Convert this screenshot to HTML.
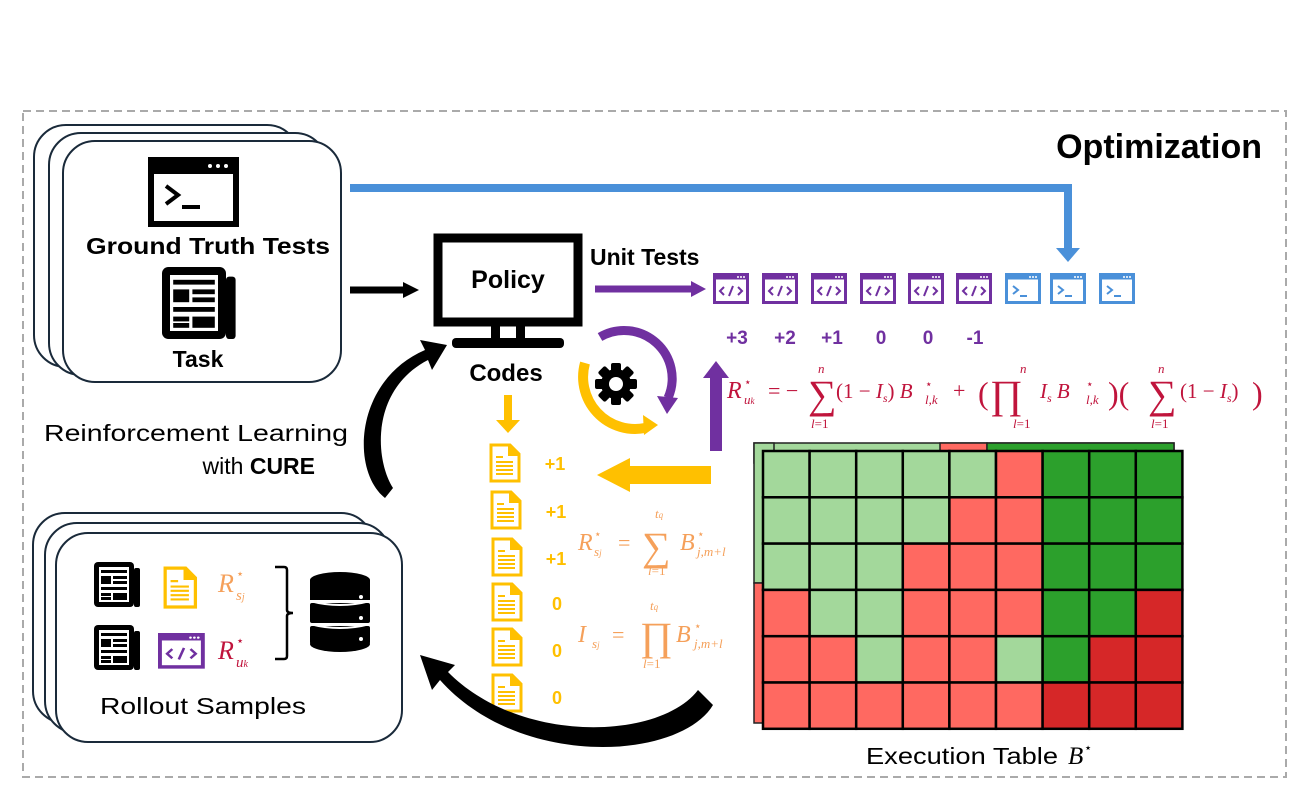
<!DOCTYPE html>
<html><head><meta charset="utf-8"><style>
html,body{margin:0;padding:0;background:#fff;}
svg{display:block;font-family:"Liberation Sans",sans-serif;}
.m{font-family:"Liberation Serif",serif;font-style:italic;}
</style></head><body>
<svg width="1294" height="785" viewBox="0 0 1294 785" xmlns="http://www.w3.org/2000/svg">
<defs>
<g id="code">
<rect x="1.5" y="1.5" width="33" height="28" fill="#fff" stroke="#7030a0" stroke-width="3"/>
<rect x="1.5" y="1.5" width="33" height="5" fill="#7030a0"/>
<circle cx="25" cy="4" r="1" fill="#fff"/><circle cx="28" cy="4" r="1" fill="#fff"/><circle cx="31" cy="4" r="1" fill="#fff"/>
<path d="M11 14 l-4 4 4 4 M25 14 l4 4 -4 4 M20 13 l-4 10" fill="none" stroke="#7030a0" stroke-width="2"/>
</g>
<g id="term">
<rect x="1.5" y="1.5" width="33" height="28" fill="#fff" stroke="#4a90d9" stroke-width="3"/>
<rect x="1.5" y="1.5" width="33" height="5" fill="#4a90d9"/>
<circle cx="25" cy="4" r="1" fill="#fff"/><circle cx="28" cy="4" r="1" fill="#fff"/><circle cx="31" cy="4" r="1" fill="#fff"/>
<path d="M8 13 l5 4 -5 4" fill="none" stroke="#4a90d9" stroke-width="2"/>
<path d="M15 23 h7" stroke="#4a90d9" stroke-width="2"/>
</g>
<g id="doc">
<path d="M2 2 h19 l9 9 v27 h-28 z" fill="#fff" stroke="#ffc000" stroke-width="3"/>
<path d="M20 2 v10 h10" fill="#ffc000" stroke="#ffc000" stroke-width="2"/>
<path d="M7 14 h7 M7 19 h17 M7 23 h17 M7 27 h17 M7 31 h17" stroke="#ffc000" stroke-width="2"/>
</g>
<g id="news">
<rect x="0" y="0" width="40" height="45" rx="4" fill="#000"/>
<rect x="40" y="6" width="6" height="39" rx="2" fill="#000"/>
<rect x="5" y="5" width="30" height="35" fill="#fff"/>
<rect x="7" y="8" width="26" height="3" fill="#000"/>
<rect x="7" y="14" width="10" height="8" fill="#000"/>
<rect x="19" y="14" width="14" height="3" fill="#000"/>
<rect x="19" y="19" width="14" height="3" fill="#000"/>
<rect x="7" y="25" width="26" height="3" fill="#000"/>
<rect x="7" y="31" width="10" height="3" fill="#000"/>
<rect x="19" y="31" width="14" height="7" fill="#000"/>
<rect x="7" y="35" width="10" height="3" fill="#000"/>
</g>
</defs>

<rect x="23" y="111" width="1263" height="666" fill="none" stroke="#aaa" stroke-width="2" stroke-dasharray="8,5"/>
<text x="1262" y="158" text-anchor="end" font-size="34" font-weight="bold">Optimization</text>

<rect x="34" y="125" width="265" height="242" rx="32" fill="#fff" stroke="#1a2a3a" stroke-width="2"/>
<rect x="49" y="133" width="278" height="242" rx="32" fill="#fff" stroke="#1a2a3a" stroke-width="2"/>
<rect x="63" y="141" width="278" height="241" rx="32" fill="#fff" stroke="#1a2a3a" stroke-width="2"/>
<rect x="148" y="157" width="91" height="70" fill="#000"/>
<rect x="154" y="174" width="79" height="47" fill="#fff"/>
<circle cx="210" cy="166" r="2" fill="#fff"/><circle cx="218" cy="166" r="2" fill="#fff"/><circle cx="226" cy="166" r="2" fill="#fff"/>
<path d="M166 186 l12 9 -12 9" fill="none" stroke="#000" stroke-width="4"/>
<rect x="182" y="205" width="18" height="4" fill="#000"/>
<text x="208" y="254" text-anchor="middle" font-size="23" font-weight="bold" textLength="244" lengthAdjust="spacingAndGlyphs">Ground Truth Tests</text>
<use href="#news" transform="translate(162,267) scale(1.6)"/>
<text x="198" y="367" text-anchor="middle" font-size="23" font-weight="bold">Task</text>

<path d="M350 188 H1068 V250" fill="none" stroke="#4a90d9" stroke-width="8"/>
<path d="M1056 248 h24 l-12 14 z" fill="#4a90d9"/>
<path d="M350 290 H405" stroke="#000" stroke-width="7"/>
<path d="M403 282 l16 8 -16 8z" fill="#000"/>

<rect x="438" y="238" width="140" height="84" fill="#fff" stroke="#000" stroke-width="9"/>
<rect x="491" y="326" width="9" height="16" fill="#000"/><rect x="516" y="326" width="9" height="16" fill="#000"/>
<rect x="452" y="338" width="112" height="10" rx="4" fill="#000"/>
<text x="508" y="288" text-anchor="middle" font-size="25" font-weight="bold">Policy</text>
<text x="506" y="381" text-anchor="middle" font-size="24" font-weight="bold">Codes</text>

<text x="590" y="265" font-size="23" font-weight="bold">Unit Tests</text>
<path d="M595 289 H693" stroke="#7030a0" stroke-width="7"/>
<path d="M691 281 l15 8 -15 8z" fill="#7030a0"/>

<use href="#code" x="713" y="273"/>
<use href="#code" x="762" y="273"/>
<use href="#code" x="811" y="273"/>
<use href="#code" x="860" y="273"/>
<use href="#code" x="908" y="273"/>
<use href="#code" x="956" y="273"/>
<use href="#term" x="1005" y="273"/>
<use href="#term" x="1050" y="273"/>
<use href="#term" x="1099" y="273"/>

<g font-size="19" font-weight="bold" fill="#7030a0" text-anchor="middle">
<text x="737" y="344">+3</text><text x="785" y="344">+2</text><text x="832" y="344">+1</text>
<text x="881" y="344">0</text><text x="928" y="344">0</text><text x="975" y="344">-1</text>
</g>

<rect x="710" y="375" width="12" height="76" fill="#7030a0"/>
<path d="M703 378 l13 -17 13 17z" fill="#7030a0"/>

<g class="m" fill="#c0143c">
<text x="727" y="398" font-size="24">R</text>
<text x="744" y="386" font-size="12" font-style="normal">⋆</text>
<text x="744" y="404" font-size="13">u<tspan font-size="9">k</tspan></text>
<text x="768" y="398" font-size="22" font-style="normal">= −</text>
<text x="808" y="408" font-size="40" font-style="normal">∑</text>
<text x="818" y="373" font-size="13">n</text>
<text x="811" y="428" font-size="13">l<tspan font-style="normal">=1</tspan></text>
<text x="836" y="398" font-size="21" font-style="normal">(1 − <tspan font-style="italic">I</tspan><tspan font-size="12" font-style="italic" dy="4">s</tspan><tspan dy="-4">)</tspan> <tspan font-style="italic">B</tspan></text>
<text x="925" y="388" font-size="12" font-style="normal">⋆</text>
<text x="925" y="404" font-size="13">l,k</text>
<text x="953" y="398" font-size="22" font-style="normal">+</text>
<text x="978" y="404" font-size="32" font-style="normal">(</text>
<text x="990" y="408" font-size="40" font-style="normal">∏</text>
<text x="1020" y="373" font-size="13">n</text>
<text x="1013" y="428" font-size="13">l<tspan font-style="normal">=1</tspan></text>
<text x="1040" y="398" font-size="21">I<tspan font-size="12" dy="4">s</tspan><tspan dy="-4"> B</tspan></text>
<text x="1086" y="388" font-size="12" font-style="normal">⋆</text>
<text x="1086" y="404" font-size="13">l,k</text>
<text x="1108" y="404" font-size="32" font-style="normal">)(</text>
<text x="1148" y="408" font-size="40" font-style="normal">∑</text>
<text x="1158" y="373" font-size="13">n</text>
<text x="1151" y="428" font-size="13">l<tspan font-style="normal">=1</tspan></text>
<text x="1180" y="398" font-size="21" font-style="normal">(1 − <tspan font-style="italic">I</tspan><tspan font-size="12" font-style="italic" dy="4">s</tspan><tspan dy="-4">)</tspan></text>
<text x="1252" y="404" font-size="32" font-style="normal">)</text>
</g>

<g stroke="#222" stroke-width="1.5">
<rect x="754" y="443" width="420" height="20" fill="#a3d89b"/>
<rect x="940" y="443" width="47" height="20" fill="#ff6961"/>
<rect x="987" y="443" width="187" height="20" fill="#2ca02c"/>
<rect x="754" y="443" width="20" height="140" fill="#a3d89b"/>
<rect x="754" y="583" width="20" height="140" fill="#ff6961"/>
</g>
<g stroke="#000" stroke-width="2.5">
<rect x="763" y="451" width="46.6" height="46.3" fill="#a3d89b"/><rect x="809.6" y="451" width="46.6" height="46.3" fill="#a3d89b"/><rect x="856.2" y="451" width="46.6" height="46.3" fill="#a3d89b"/><rect x="902.8" y="451" width="46.6" height="46.3" fill="#a3d89b"/><rect x="949.4" y="451" width="46.6" height="46.3" fill="#a3d89b"/><rect x="996" y="451" width="46.6" height="46.3" fill="#ff6961"/><rect x="1042.6" y="451" width="46.6" height="46.3" fill="#2ca02c"/><rect x="1089.2" y="451" width="46.6" height="46.3" fill="#2ca02c"/><rect x="1135.8" y="451" width="46.6" height="46.3" fill="#2ca02c"/>
<rect x="763" y="497.3" width="46.6" height="46.3" fill="#a3d89b"/><rect x="809.6" y="497.3" width="46.6" height="46.3" fill="#a3d89b"/><rect x="856.2" y="497.3" width="46.6" height="46.3" fill="#a3d89b"/><rect x="902.8" y="497.3" width="46.6" height="46.3" fill="#a3d89b"/><rect x="949.4" y="497.3" width="46.6" height="46.3" fill="#ff6961"/><rect x="996" y="497.3" width="46.6" height="46.3" fill="#ff6961"/><rect x="1042.6" y="497.3" width="46.6" height="46.3" fill="#2ca02c"/><rect x="1089.2" y="497.3" width="46.6" height="46.3" fill="#2ca02c"/><rect x="1135.8" y="497.3" width="46.6" height="46.3" fill="#2ca02c"/>
<rect x="763" y="543.6" width="46.6" height="46.3" fill="#a3d89b"/><rect x="809.6" y="543.6" width="46.6" height="46.3" fill="#a3d89b"/><rect x="856.2" y="543.6" width="46.6" height="46.3" fill="#a3d89b"/><rect x="902.8" y="543.6" width="46.6" height="46.3" fill="#ff6961"/><rect x="949.4" y="543.6" width="46.6" height="46.3" fill="#ff6961"/><rect x="996" y="543.6" width="46.6" height="46.3" fill="#ff6961"/><rect x="1042.6" y="543.6" width="46.6" height="46.3" fill="#2ca02c"/><rect x="1089.2" y="543.6" width="46.6" height="46.3" fill="#2ca02c"/><rect x="1135.8" y="543.6" width="46.6" height="46.3" fill="#2ca02c"/>
<rect x="763" y="589.9" width="46.6" height="46.3" fill="#ff6961"/><rect x="809.6" y="589.9" width="46.6" height="46.3" fill="#a3d89b"/><rect x="856.2" y="589.9" width="46.6" height="46.3" fill="#a3d89b"/><rect x="902.8" y="589.9" width="46.6" height="46.3" fill="#ff6961"/><rect x="949.4" y="589.9" width="46.6" height="46.3" fill="#ff6961"/><rect x="996" y="589.9" width="46.6" height="46.3" fill="#ff6961"/><rect x="1042.6" y="589.9" width="46.6" height="46.3" fill="#2ca02c"/><rect x="1089.2" y="589.9" width="46.6" height="46.3" fill="#2ca02c"/><rect x="1135.8" y="589.9" width="46.6" height="46.3" fill="#d62728"/>
<rect x="763" y="636.2" width="46.6" height="46.3" fill="#ff6961"/><rect x="809.6" y="636.2" width="46.6" height="46.3" fill="#ff6961"/><rect x="856.2" y="636.2" width="46.6" height="46.3" fill="#a3d89b"/><rect x="902.8" y="636.2" width="46.6" height="46.3" fill="#ff6961"/><rect x="949.4" y="636.2" width="46.6" height="46.3" fill="#ff6961"/><rect x="996" y="636.2" width="46.6" height="46.3" fill="#a3d89b"/><rect x="1042.6" y="636.2" width="46.6" height="46.3" fill="#2ca02c"/><rect x="1089.2" y="636.2" width="46.6" height="46.3" fill="#d62728"/><rect x="1135.8" y="636.2" width="46.6" height="46.3" fill="#d62728"/>
<rect x="763" y="682.5" width="46.6" height="46.3" fill="#ff6961"/><rect x="809.6" y="682.5" width="46.6" height="46.3" fill="#ff6961"/><rect x="856.2" y="682.5" width="46.6" height="46.3" fill="#ff6961"/><rect x="902.8" y="682.5" width="46.6" height="46.3" fill="#ff6961"/><rect x="949.4" y="682.5" width="46.6" height="46.3" fill="#ff6961"/><rect x="996" y="682.5" width="46.6" height="46.3" fill="#ff6961"/><rect x="1042.6" y="682.5" width="46.6" height="46.3" fill="#d62728"/><rect x="1089.2" y="682.5" width="46.6" height="46.3" fill="#d62728"/><rect x="1135.8" y="682.5" width="46.6" height="46.3" fill="#d62728"/>
</g>
<text x="866" y="764" font-size="23" textLength="192" lengthAdjust="spacingAndGlyphs">Execution Table</text>
<text x="1068" y="764" font-size="25" class="m">B</text>
<text x="1084" y="752" font-size="13">⋆</text>

<g transform="translate(616,384)">
<g fill="#000">
<circle r="15"/>
<rect x="-5" y="-21" width="10" height="42" rx="2"/>
<rect x="-5" y="-21" width="10" height="42" rx="2" transform="rotate(45)"/>
<rect x="-5" y="-21" width="10" height="42" rx="2" transform="rotate(90)"/>
<rect x="-5" y="-21" width="10" height="42" rx="2" transform="rotate(135)"/>
</g>
<circle r="7" fill="#fff"/>
</g>
<path d="M600 337 A48 48 0 0 1 668 398" fill="none" stroke="#7030a0" stroke-width="9"/>
<path d="M657 396 l10 18 11 -16z" fill="#7030a0"/>
<path d="M585 363 A52 52 0 0 0 645 428" fill="none" stroke="#ffc000" stroke-width="10"/>
<path d="M643 415 l15 10 -14 10z" fill="#ffc000"/>

<rect x="504" y="395" width="8" height="26" fill="#ffc000"/>
<path d="M496 420 h24 l-12 13z" fill="#ffc000"/>
<rect x="628" y="466" width="83" height="18" fill="#ffc000"/>
<path d="M630 458 v34 l-33 -17z" fill="#ffc000"/>

<use href="#doc" x="489" y="443"/>
<use href="#doc" x="490" y="490"/>
<use href="#doc" x="491" y="537"/>
<use href="#doc" x="491" y="582"/>
<use href="#doc" x="491" y="627"/>
<use href="#doc" x="491" y="673"/>
<g font-size="18" font-weight="bold" fill="#ffc000" text-anchor="middle">
<text x="555" y="470">+1</text><text x="556" y="518">+1</text><text x="556" y="565">+1</text>
<text x="557" y="610">0</text><text x="557" y="657">0</text><text x="557" y="704">0</text>
</g>

<g class="m" fill="#f5a05a">
<text x="578" y="550" font-size="24">R</text>
<text x="594" y="538" font-size="12" font-style="normal">⋆</text>
<text x="594" y="556" font-size="13">s<tspan font-size="9">j</tspan></text>
<text x="618" y="550" font-size="22" font-style="normal">=</text>
<text x="642" y="560" font-size="40" font-style="normal">∑</text>
<text x="655" y="518" font-size="13">t<tspan font-size="9">q</tspan></text>
<text x="648" y="575" font-size="13">l<tspan font-style="normal">=1</tspan></text>
<text x="680" y="550" font-size="24">B</text>
<text x="697" y="538" font-size="12" font-style="normal">⋆</text>
<text x="697" y="556" font-size="13">j,m+l</text>

<text x="578" y="642" font-size="24">I</text>
<text x="592" y="648" font-size="13">s<tspan font-size="9">j</tspan></text>
<text x="612" y="642" font-size="22" font-style="normal">=</text>
<text x="640" y="650" font-size="40" font-style="normal">∏</text>
<text x="650" y="610" font-size="13">t<tspan font-size="9">q</tspan></text>
<text x="643" y="668" font-size="13">l<tspan font-style="normal">=1</tspan></text>
<text x="676" y="642" font-size="24">B</text>
<text x="694" y="630" font-size="12" font-style="normal">⋆</text>
<text x="694" y="648" font-size="13">j,m+l</text>
</g>

<text x="348" y="441" text-anchor="end" font-size="23" textLength="304" lengthAdjust="spacingAndGlyphs">Reinforcement Learning</text>
<text x="315" y="474" text-anchor="end" font-size="23">with <tspan font-weight="bold">CURE</tspan></text>

<path d="M385 498 C350 470 355 380 425 350 L420 340 L447 345 L432 370 L428 360 C370 390 375 460 393 488 Z" fill="#000"/>
<path d="M713 705 C680 760 520 770 440 680 L432 690 L420 655 L455 665 L448 672 C520 745 660 740 698 690 Z" fill="#000"/>

<rect x="33" y="513" width="340" height="210" rx="32" fill="#fff" stroke="#1a2a3a" stroke-width="2"/>
<rect x="45" y="523" width="345" height="210" rx="32" fill="#fff" stroke="#1a2a3a" stroke-width="2"/>
<rect x="56" y="533" width="346" height="209" rx="32" fill="#fff" stroke="#1a2a3a" stroke-width="2"/>
<use href="#news" x="94" y="562"/>
<use href="#news" x="94" y="625"/>
<use href="#doc" transform="translate(163,566) scale(1.08)"/>
<g transform="translate(158,633) scale(1.3,1.15)"><use href="#code"/></g>
<g class="m">
<text x="218" y="592" font-size="26" fill="#f5a05a">R</text>
<text x="236" y="578" font-size="13" fill="#f5a05a" font-style="normal">⋆</text>
<text x="236" y="600" font-size="15" fill="#f5a05a">s<tspan font-size="10">j</tspan></text>
<text x="218" y="659" font-size="26" fill="#c0143c">R</text>
<text x="236" y="645" font-size="13" fill="#c0143c" font-style="normal">⋆</text>
<text x="236" y="667" font-size="15" fill="#c0143c">u<tspan font-size="10">k</tspan></text>
</g>
<path d="M275 567 h9 q3 0 3 3 v40 q0 3 6 3 q-6 0 -6 3 v40 q0 3 -3 3 h-9" fill="none" stroke="#000" stroke-width="2.5"/>
<g fill="#000">
<ellipse cx="340" cy="580" rx="30" ry="8"/>
<rect x="310" y="580" width="60" height="20"/>
<rect x="310" y="603" width="60" height="20" rx="2"/>
<rect x="310" y="626" width="60" height="18" rx="2"/>
<ellipse cx="340" cy="644" rx="30" ry="8"/>
</g>
<path d="M310 601 q30 8 60 0 M310 624 q30 8 60 0" fill="none" stroke="#fff" stroke-width="2"/>
<circle cx="361" cy="597" r="2" fill="#fff"/><circle cx="361" cy="618" r="2" fill="#fff"/><circle cx="361" cy="639" r="2" fill="#fff"/>
<text x="100" y="714" font-size="23" textLength="206" lengthAdjust="spacingAndGlyphs">Rollout Samples</text>
</svg>
</body></html>
